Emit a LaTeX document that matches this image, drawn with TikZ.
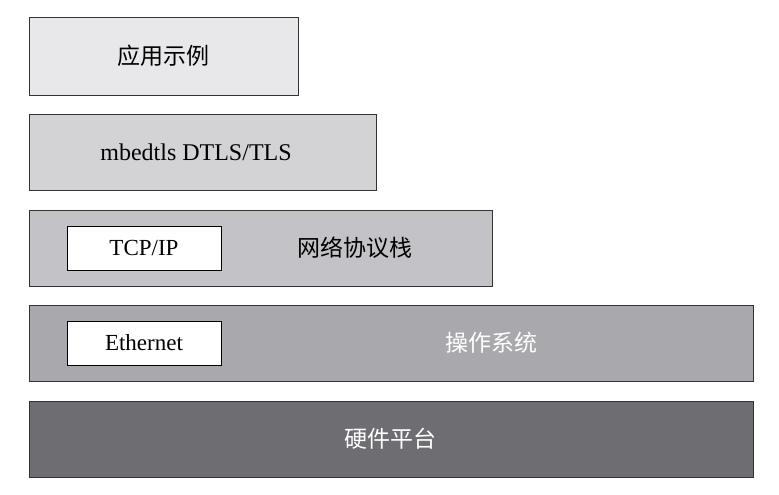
\documentclass[tikz,border=0pt]{standalone}
\usepackage{fontspec}
\setmainfont{Liberation Serif}
\newfontfamily\cjk{Noto Sans CJK SC}
\begin{document}
\begin{tikzpicture}[x=1pt,y=-1pt]
\useasboundingbox (0,0) rectangle (779,495);
\tikzset{layer/.style={draw=black!80,line width=1pt},
inbox/.style={draw=black,fill=white,line width=1pt,minimum width=154pt,minimum height=44pt,font=\fontsize{23}{25}\selectfont},
lbl/.style={font=\cjk\fontsize{23}{26}\selectfont}}
\definecolor{c1}{HTML}{E8E8EA}\definecolor{c2}{HTML}{D3D3D6}
\definecolor{c3}{HTML}{C3C3C7}\definecolor{c4}{HTML}{A8A8AD}\definecolor{c5}{HTML}{6D6D72}
\draw[layer,fill=c1] (29,18) rectangle (298,95);
\node[lbl] (t1) at (163,56) {应用示例};
\draw[layer,fill=c2] (29,114) rectangle (376,190);
\node[font=\fontsize{24}{26}\selectfont] (t2) at (196,152) {mbedtls DTLS/TLS};
\draw[layer,fill=c3] (29,210) rectangle (492,286);
\node[inbox] (tcp) at (144,248) {TCP/IP};
\node[lbl] (t3) at (355,248) {网络协议栈};
\draw[layer,fill=c4] (29,305) rectangle (753,381);
\node[inbox] (eth) at (144,343) {Ethernet};
\node[lbl,text=white] (t4) at (491,343) {操作系统};
\draw[layer,fill=c5] (29,401) rectangle (753,477);
\node[lbl,text=white] (t5) at (390,439) {硬件平台};
\end{tikzpicture}
\end{document}
